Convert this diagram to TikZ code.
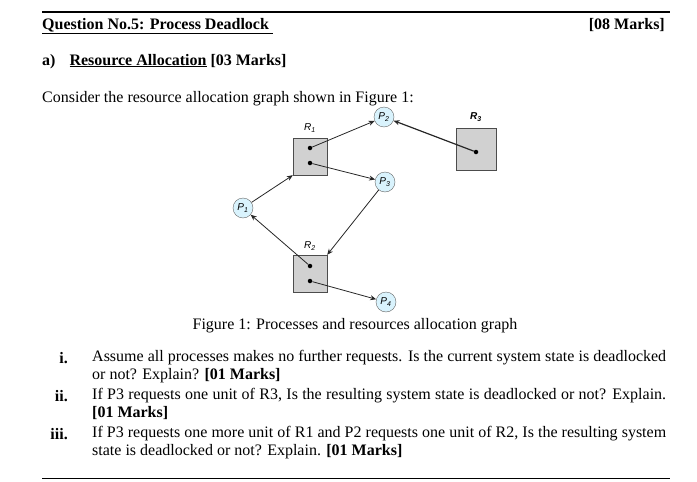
\documentclass[tikz,border=0pt]{standalone}
\usepackage{fontspec}
\setmainfont{Liberation Serif}
\newfontfamily\sansf{Liberation Sans}
\usetikzlibrary{arrows.meta}
\begin{document}
\begin{tikzpicture}[x=1pt,y=-1pt,
  txt/.style={anchor=base west,inner sep=0,font=\fontsize{16}{18}\selectfont},
  proc/.style={circle,draw=black!60,fill=cyan!15,minimum size=20,inner sep=0,font=\sansf\fontsize{10}{10}\selectfont\itshape},
  res/.style={draw=black!70,fill=black!18,minimum width=34,minimum height=37,inner sep=0},
  res3/.style={draw=black!70,fill=black!18,minimum width=40,minimum height=42,inner sep=0},
  dot/.style={circle,fill=black,minimum size=4.5,inner sep=0},
  rl/.style={font=\sansf\fontsize{10}{10}\selectfont\itshape,inner sep=0},
  arr/.style={-{Stealth[length=6,width=5]},black!85,line width=0.8},
  num/.style={anchor=base east,inner sep=0,font=\bfseries\fontsize{16}{18}\selectfont},
  item/.style={anchor=north west,inner sep=0,text width=574,align=justify,font=\fontsize{16}{18}\selectfont}]
\useasboundingbox (0,0) rectangle (697,482);
\draw[line width=1.6] (42,12) coordinate (t1) -- (670,12) coordinate (t2);
\node[txt,font=\bfseries\fontsize{16}{18}\selectfont] (q) at (42,29) {\underline{Question No.5: Process Deadlock\ }};
\node[txt,anchor=base east,font=\bfseries\fontsize{16}{18}\selectfont] (m) at (665,29) {[08 Marks]};
\node[txt,font=\bfseries\fontsize{16}{18}\selectfont] (a) at (42,65) {a)\hspace{14pt}\underline{Resource Allocation} [03 Marks]};
\node[txt] (c) at (42,102) {Consider the resource allocation graph shown in Figure 1:};
% graph
\node[res] (R1) at (310,156.5) {};
\node[res] (R2) at (310,273.5) {};
\node[res3] (R3) at (476,149) {};
\node[rl] (lR1) at (310,128) {R\textsubscript{1}};
\node[rl] (lR2) at (310,246) {R\textsubscript{2}};
\node[font=\sansf\bfseries\itshape\fontsize{10}{10}\selectfont,inner sep=0] (lR3) at (476,117) {R\textsubscript{3}};
\node[dot] (d11) at (310,148) {};
\node[dot] (d12) at (310,163) {};
\node[dot] (d21) at (310,266) {};
\node[dot] (d22) at (310,281) {};
\node[dot] (d3) at (476,152) {};
\node[proc] (P1) at (243,208) {P\textsubscript{1}};
\node[proc] (P2) at (384,117) {P\textsubscript{2}};
\node[proc] (P3) at (385,182) {P\textsubscript{3}};
\node[proc] (P4) at (386,302) {P\textsubscript{4}};
\draw[arr] (d11) -- (P2);
\draw[arr] (d12) -- (P3);
\draw[arr] (P1) -- (R1.south west);
\draw[arr] (d21) -- (P1);
\draw[arr] (P3) -- (R2.north east);
\draw[arr] (d22) -- (P4);
\draw[arr,line width=1.2] (d3) -- (P2);
\node[txt,anchor=base] (cap) at (355,329) {Figure 1: Processes and resources allocation graph};
% list
\node[num] (n1) at (68,363) {i.};
\node[item] (i1) at (92,350) {Assume all processes makes no further requests. Is the current system state is deadlocked or not? Explain? \textbf{[01 Marks]}};
\node[num] (n2) at (68,401) {ii.};
\node[item] (i2) at (92,388) {If P3 requests one unit of R3, Is the resulting system state is deadlocked or not? Explain. \textbf{[01 Marks]}};
\node[num] (n3) at (68,439) {iii.};
\node[item] (i3) at (92,426) {If P3 requests one more unit of R1 and P2 requests one unit of R2, Is the resulting system state is deadlocked or not? Explain. \textbf{[01 Marks]}};
\draw[line width=1] (42,478) coordinate (b1) -- (670,478) coordinate (b2);
\end{tikzpicture}
\end{document}
